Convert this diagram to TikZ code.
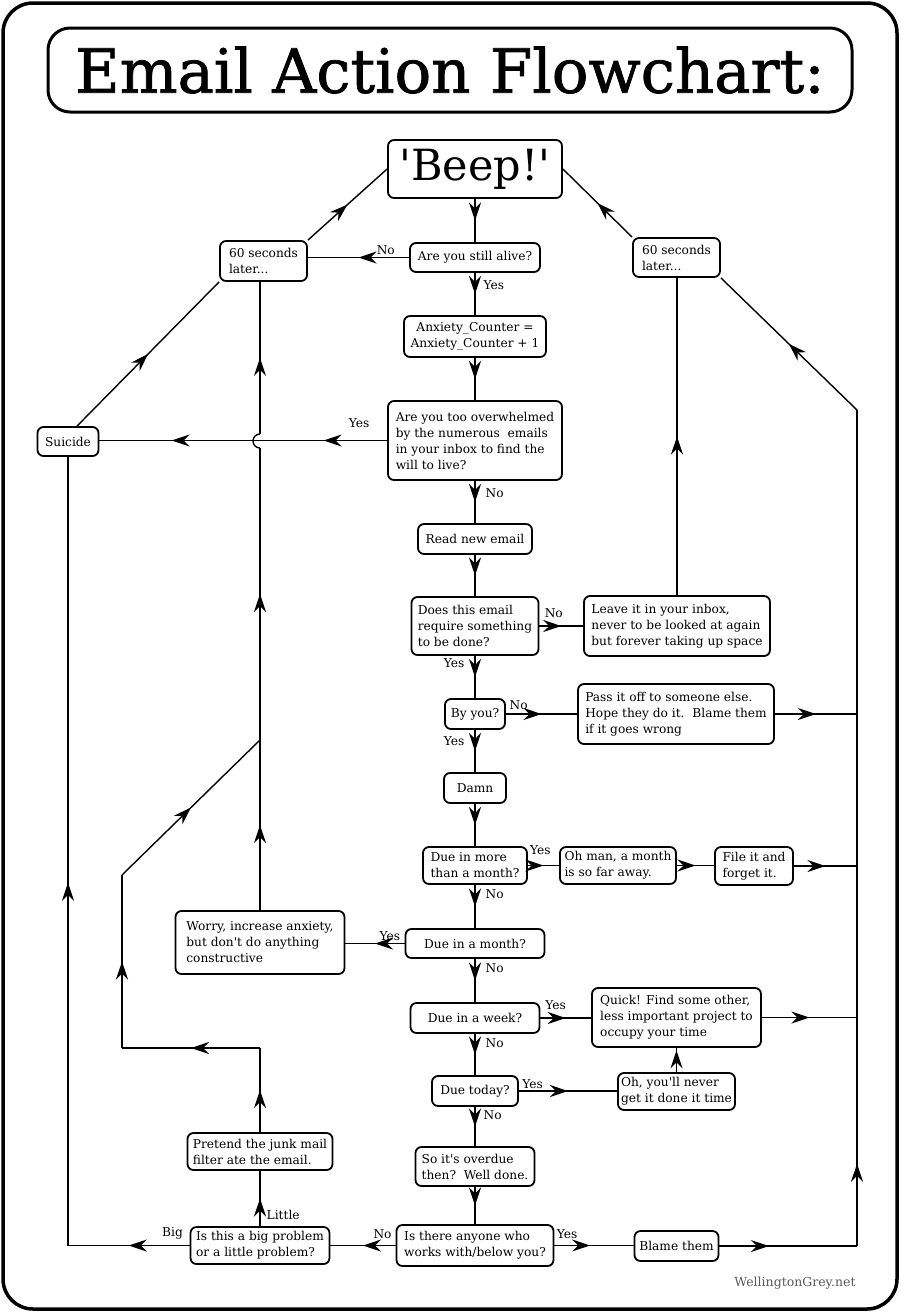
\documentclass[tikz,border=0pt]{standalone}
\usepackage{fontspec}
\setmainfont{DejaVu Serif}
\newfontfamily\titlefont{DejaVu Serif}[FakeBold=1.2]
\usetikzlibrary{arrows.meta}
\usetikzlibrary{decorations.markings}
\usetikzlibrary{positioning}
\usetikzlibrary{calc}

\newcommand{\aps}{\textquotesingle}

\tikzset{
    box/.style={draw, rounded corners=6pt, line width=1.8pt, fill=white,
        align=left, inner sep=3pt, font=\fontsize{12.2}{16}\selectfont},
    flow/.style={line width=1.4pt, postaction={decorate},
        decoration={markings, mark=at position #1 with
            {\arrow{Stealth[length=18pt,width=12pt,inset=6pt]}}}},
    flow/.default=0.5,
    plain/.style={line width=1.4pt},
    lbl/.style={font=\fontsize{12.2}{14}\selectfont, inner sep=2pt}
}

\begin{document}
\begin{tikzpicture}[x=1pt, y=-1pt]
    \useasboundingbox (0,0) rectangle (900,1312);

    % frame and title
    \draw[line width=3.5pt, rounded corners=30pt] (3,3) rectangle (897,1309);
    \node[draw, line width=3pt, rounded corners=22pt, minimum width=804pt,
        minimum height=84pt, font=\titlefont\fontsize{61}{61}\selectfont] (title) at (450,70) {Email Action Flowchart:};

    % main column
    \node[box, minimum width=174pt, minimum height=58pt, font=\fontsize{43}{43}\selectfont] (beep) at (475,169) {\aps Beep!\aps};
    \node[box, minimum width=130pt, minimum height=29pt] (alive) at (475,257.5) {Are you still alive?};
    \node[box, minimum width=142pt, minimum height=41pt, align=center] (anxiety) at (475,336.5) {Anxiety\_Counter =\\Anxiety\_Counter + 1};
    \node[box, minimum width=174pt, minimum height=79pt] (overw) at (475,440.5) {Are you too overwhelmed\\by the numerous\ \ emails\\in your inbox to find the\\will to live?};
    \node[box, minimum width=114pt, minimum height=30pt] (read) at (475,539) {Read new email};
    \node[box, minimum width=127pt, minimum height=58pt] (require) at (475,626) {Does this email\\require something\\to be done?};
    \node[box, minimum width=60pt, minimum height=30pt] (byyou) at (475,714) {By you?};
    \node[box, minimum width=62pt, minimum height=30pt] (damn) at (475,788) {Damn};
    \node[box, minimum width=104pt, minimum height=37pt] (more) at (475,865.5) {Due in more\\than a month?};
    \node[box, minimum width=139pt, minimum height=29pt] (duemonth) at (475,943.5) {Due in a month?};
    \node[box, minimum width=129pt, minimum height=30pt] (week) at (475,1018) {Due in a week?};
    \node[box, minimum width=86pt, minimum height=30pt] (today) at (475,1091) {Due today?};
    \node[box, minimum width=119pt, minimum height=39pt] (overdue) at (475,1166.5) {So it\aps s overdue\\then?\ \ Well done.};
    \node[box, minimum width=157pt, minimum height=41pt] (anyone) at (475,1245.5) {Is there anyone who\\works with/below you?};

    % left side
    \node[box, minimum width=87pt, minimum height=40pt] (sixtyL) at (263.5,261) {60 seconds\\later...};
    \node[box, minimum width=61pt, minimum height=29pt] (suicide) at (68,441.5) {Suicide};
    \node[box, minimum width=169pt, minimum height=63pt] (worry) at (260,942.5) {Worry, increase anxiety,\\but don\aps t do anything\\constructive};
    \node[box, minimum width=145pt, minimum height=37pt] (pretend) at (260,1151.5) {Pretend the junk mail\\filter ate the email.};
    \node[box, minimum width=139pt, minimum height=37pt] (bigprob) at (260,1245.5) {Is this a big problem\\or a little problem?};

    % right side
    \node[box, minimum width=87pt, minimum height=39pt] (sixtyR) at (676.5,257.5) {60 seconds\\later...};
    \node[box, minimum width=186pt, minimum height=60pt] (leave) at (677,626) {Leave it in your inbox,\\never to be looked at again\\but forever taking up space};
    \node[box, minimum width=196pt, minimum height=60pt] (pass) at (676,714) {Pass it off to someone else.\\Hope they do it.\ \ Blame them\\if it goes wrong};
    \node[box, minimum width=116pt, minimum height=37pt] (ohman) at (618,865.5) {Oh man, a month\\is so far away.};
    \node[box, minimum width=78pt, minimum height=38pt] (file) at (754,866) {File it and\\forget it.};
    \node[box, minimum width=169pt, minimum height=59pt] (quick) at (676.5,1017.5) {Quick! Find some other,\\less important project to\\occupy your time};
    \node[box, minimum width=117pt, minimum height=37pt] (never) at (676.5,1091.5) {Oh, you\aps ll never\\get it done it time};
    \node[box, minimum width=84pt, minimum height=30pt] (blame) at (676.5,1246) {Blame them};

    \node[font=\fontsize{12.5}{14}\selectfont, text=black!65] (credit) at (795,1283) {WellingtonGrey.net};

    % corners of the long connectors
    \coordinate (jL) at (260,740);
    \coordinate (hopB) at (260,448);
    \coordinate (hopT) at (260,434);
    \coordinate (pA) at (260,1048);
    \coordinate (pB) at (122,1048);
    \coordinate (pC) at (122,875);
    \coordinate (bigC) at (suicide.south |- bigprob.west);
    \coordinate (rBot) at (857,1246);
    \coordinate (rTop) at (857,410);
    \coordinate (rQ) at (rBot |- quick.east);

    % main column connectors
    \draw[flow] (beep.south) -- (alive.north);
    \draw[flow] (alive.south) -- (anxiety.north) node[lbl, pos=0.3, right=6pt] {Yes};
    \draw[flow] (anxiety.south) -- (overw.north);
    \draw[flow] (overw.south) -- (read.north) node[lbl, pos=0.3, right=8pt] {No};
    \draw[flow] (read.south) -- (require.north);
    \draw[flow] (require.south) -- (byyou.north) node[lbl, pos=0.18, left=8pt] {Yes};
    \draw[flow] (byyou.south) -- (damn.north) node[lbl, pos=0.27, left=8pt] {Yes};
    \draw[flow] (damn.south) -- (more.north);
    \draw[flow] (more.south) -- (duemonth.north) node[lbl, pos=0.22, right=8pt] {No};
    \draw[flow] (duemonth.south) -- (week.north) node[lbl, pos=0.22, right=8pt] {No};
    \draw[flow] (week.south) -- (today.north) node[lbl, pos=0.23, right=8pt] {No};
    \draw[flow] (today.south) -- (overdue.north) node[lbl, pos=0.22, right=6pt] {No};
    \draw[flow] (overdue.south) -- (anyone.north);

    % branches to the right
    \draw[flow] (require.east) -- (leave.west |- require.east) node[lbl, pos=0.33, above=6pt] {No};
    \draw[flow] (byyou.east) -- (pass.west |- byyou.east) node[lbl, pos=0.18, above=2pt] {No};
    \draw[flow] (more.east) -- (ohman.west |- more.east) node[lbl, pos=0.4, above=8pt] {Yes};
    \draw[flow] (ohman.east) -- (file.west |- ohman.east);
    \draw[flow] (week.east) -- (quick.west |- week.east) node[lbl, pos=0.3, above=6pt] {Yes};
    \draw[flow] (today.east) -- (never.west |- today.east) node[lbl, pos=0.14, above] {Yes};
    \draw[flow=0.9] (never.north) -- (quick.south);
    \draw[flow=0.45] (anyone.east) -- (blame.west |- anyone.east) node[lbl, pos=0.16, above=4pt] {Yes};

    % branches to the left
    \draw[flow] (alive.west) -- (sixtyL.east |- alive.west) node[lbl, pos=0.23, above] {No};
    \draw[flow] (overw.west) -- (overw.west -| hopB) node[lbl, pos=0.22, above=10pt] {Yes};
    \draw[flow=0.55] (overw.west -| hopB) -- (suicide.east |- overw.west);
    \draw[flow] (duemonth.west) -- (worry.east |- duemonth.west) node[lbl, pos=0.25, above] {Yes};
    \draw[flow] (anyone.west) -- (bigprob.east |- anyone.west) node[lbl, pos=0.2, above=4pt] {No};
    \draw[flow] (bigprob.north) -- (pretend.south) node[lbl, pos=0.2, right=4pt] {Little};
    \draw[flow] (bigprob.west) -- (bigC) node[lbl, pos=0.14, above=4pt] {Big};
    \draw[flow=0.46] (bigC) -- (suicide.south);

    % back up the left side
    \draw[flow] (pretend.north) -- (pA);
    \draw[flow] (pA) -- (pB);
    \draw[flow] (pB) -- (pC);
    \draw[flow] (pC) -- (jL);
    \draw[flow] (worry.north) -- (jL);
    \draw[flow] (jL) -- (hopB);
    \draw[plain] (hopB) arc[start angle=-90, end angle=-270, radius=7pt];
    \draw[flow] (hopT) -- (hopT |- sixtyL.south);
    \draw[flow] ([xshift=9pt]suicide.north) -- (sixtyL.south west);
    \draw[flow] (sixtyL.north east) -- (beep.west);

    % back up the right side
    \draw[flow] (pass.east) -- (pass.east -| rTop);
    \draw[flow] (file.east) -- (file.east -| rTop);
    \draw[flow] (quick.east) -- (rQ);
    \draw[flow=0.36] (blame.east) -- (rBot);
    \draw[flow=0.36] (rBot) -- (rQ);
    \draw[plain] (rQ) -- (rTop);
    \draw[flow] (rTop) -- (sixtyR.south east);
    \draw[flow] (leave.north) -- (leave.north |- sixtyR.south);
    \draw[flow] (sixtyR.north west) -- (beep.east);
\end{tikzpicture}
\end{document}
